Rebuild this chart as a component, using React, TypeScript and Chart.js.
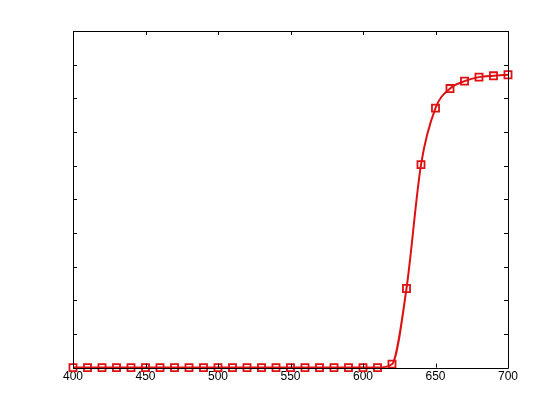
import React, { useEffect, useRef } from "react";
import { Chart, registerables } from "chart.js";

Chart.register(...registerables);

const wavelengths = [400, 410, 420, 430, 440, 450, 460, 470, 480, 490, 500, 510, 520, 530, 540, 550, 560, 570, 580, 590, 600, 610, 620, 630, 640, 650, 660, 670, 680, 690, 700];
const values = [0, 0, 0, 0, 0, 0, 0, 0, 0, 0, 0, 0, 0, 0, 0, 0, 0, 0, 0, 0, 0, 0, 0.01, 0.235, 0.603, 0.771, 0.829, 0.851, 0.863, 0.867, 0.87];
const xTicks = [400, 450, 500, 550, 600, 650, 700];
const yTicks = [0, 0.1, 0.2, 0.3, 0.4, 0.5, 0.6, 0.7, 0.8, 0.9, 1.0];

const frameTicks = {
  id: "frameTicks",
  afterDatasetsDraw(chart: any) {
    const { ctx, chartArea } = chart;
    const { left, right, top, bottom } = chartArea;
    const xs = chart.scales.x;
    const ys = chart.scales.y;
    const len = 4;
    ctx.save();
    ctx.strokeStyle = "#000";
    ctx.lineWidth = 1;
    ctx.beginPath();
    ctx.rect(Math.round(left) + 0.5, Math.round(top) + 0.5, Math.round(right - left), Math.round(bottom - top));
    for (const v of yTicks) {
      const y = Math.round(ys.getPixelForValue(v)) + 0.5;
      ctx.moveTo(left, y);
      ctx.lineTo(left + len, y);
      ctx.moveTo(right, y);
      ctx.lineTo(right - len, y);
    }
    for (const v of xTicks) {
      const x = Math.round(xs.getPixelForValue(v)) + 0.5;
      ctx.moveTo(x, bottom);
      ctx.lineTo(x, bottom - len);
      ctx.moveTo(x, top);
      ctx.lineTo(x, top + len);
    }
    ctx.stroke();
    ctx.restore();
  },
};

export default function App() {
  const ref = useRef<HTMLCanvasElement>(null);
  useEffect(() => {
    document.body.style.margin = "0";
    const chart = new Chart(ref.current!, {
      type: "line",
      data: {
        datasets: [
          {
            data: wavelengths.map((x, i) => ({ x, y: values[i] })),
            borderColor: "#dd1111",
            borderWidth: 2,
            pointStyle: "rect",
            pointRadius: 5,
            pointBorderColor: "#dd1111",
            pointBackgroundColor: "rgba(0,0,0,0)",
            pointBorderWidth: 1.8,
            cubicInterpolationMode: "monotone",
            fill: false,
            clip: false as any,
          },
        ],
      },
      options: {
        animation: false,
        responsive: false,
        events: [],
        layout: { padding: { left: 73, right: 52, top: 31, bottom: 28 } },
        plugins: { legend: { display: false }, tooltip: { enabled: false } },
        scales: {
          x: {
            type: "linear",
            min: 400,
            max: 700,
            afterBuildTicks: (s: any) => {
              s.ticks = xTicks.map((v) => ({ value: v }));
            },
            ticks: {
              color: "#000",
              font: { family: "Liberation Sans", size: 12 },
              padding: 2,
              maxRotation: 0,
            },
            grid: { display: false, drawTicks: false },
            border: { display: false },
          },
          y: {
            display: false,
            min: 0,
            max: 1,
          },
        },
      },
      plugins: [frameTicks],
    });
    return () => chart.destroy();
  }, []);
  return (
    <div style={{ width: 560, height: 414, background: "#fff" }}>
      <canvas ref={ref} width={560} height={414} style={{ display: "block" }} />
    </div>
  );
}
